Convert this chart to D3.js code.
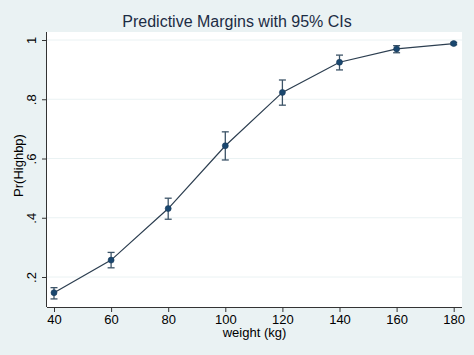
<!DOCTYPE html>
<html>
<head>
<meta charset="utf-8">
<script src="https://cdn.jsdelivr.net/npm/d3@7"></script>
<style>
html,body{margin:0;padding:0;background:#eaf2f3;}
svg{display:block;font-family:"Liberation Sans",Arial,sans-serif;}
</style>
</head>
<body>
<svg id="chart" width="474" height="355"></svg>
<script>
const weights = [40, 60, 80, 100, 120, 140, 160, 180];
const margins = [0.147, 0.257, 0.431, 0.643, 0.823, 0.925, 0.970, 0.988];
const ciLow   = [0.126, 0.231, 0.395, 0.595, 0.780, 0.899, 0.957, 0.984];
const ciHigh  = [0.164, 0.283, 0.466, 0.690, 0.865, 0.949, 0.981, 0.992];
const xTicks = [40, 60, 80, 100, 120, 140, 160, 180];
const yTicks = [0.2, 0.4, 0.6, 0.8, 1];
const yTickLabels = [".2", ".4", ".6", ".8", "1"];
const titleText = "Predictive Margins with 95% CIs";
const xLabel = "weight (kg)";
const yLabel = "Pr(Highbp)";

const svg = d3.select("#chart");
const W = 474, H = 355;
svg.append("rect").attr("width", W).attr("height", H).attr("fill", "#eaf2f3");

const plot = {left: 47, right: 462, top: 32, bottom: 307};
const x = d3.scaleLinear().domain([40, 180]).range([54, 453.7]);
const y = d3.scaleLinear().domain([0.2, 1]).range([277, 40]);

svg.append("rect")
  .attr("x", plot.left).attr("y", plot.top)
  .attr("width", plot.right - plot.left).attr("height", plot.bottom - plot.top)
  .attr("fill", "#ffffff");

// gridlines
svg.append("g").selectAll("line").data(yTicks).join("line")
  .attr("x1", plot.left).attr("x2", plot.right)
  .attr("y1", d => y(d)).attr("y2", d => y(d))
  .attr("stroke", "#eaf2f3").attr("stroke-width", 1);

// axes
const xAxis = d3.axisBottom(x).tickValues(xTicks).tickSize(5).tickPadding(3).tickFormat(d3.format("d"));
const gx = svg.append("g").attr("transform", `translate(0,${plot.bottom})`).call(xAxis);
gx.select(".domain").attr("d", `M${plot.left},0.5H${plot.right}`).attr("stroke", "#333");
gx.selectAll(".tick line").attr("stroke", "#333");
gx.selectAll(".tick text").attr("font-size", 13).attr("fill", "#000").attr("font-family", "Liberation Sans, Arial, sans-serif");

const yAxis = d3.axisLeft(y).tickValues(yTicks).tickSize(5).tickPadding(4)
  .tickFormat((d, i) => yTickLabels[i]);
const gy = svg.append("g").attr("transform", `translate(${plot.left},0)`).call(yAxis);
gy.select(".domain").attr("d", `M-0.5,${plot.top}V${plot.bottom}`).attr("stroke", "#333");
gy.selectAll(".tick line").attr("stroke", "#333");
gy.selectAll(".tick text")
  .attr("font-size", 13).attr("fill", "#000").attr("font-family", "Liberation Sans, Arial, sans-serif")
  .attr("text-anchor", "middle").attr("dy", null)
  .attr("transform", function(d){ return `translate(-13,${y(d) - y(d)}) rotate(-90)`; })
  .attr("x", 0).attr("y", 0);

// Re-position y tick labels explicitly (rotated)
gy.selectAll(".tick text").each(function(d){
  d3.select(this).attr("transform", "translate(-11,0) rotate(-90)");
});

// line
const data = weights.map((w, i) => ({w, m: margins[i], lo: ciLow[i], hi: ciHigh[i]}));
svg.append("path").datum(data)
  .attr("d", d3.line().x(d => x(d.w)).y(d => y(d.m)))
  .attr("fill", "none").attr("stroke", "#2c3e50").attr("stroke-width", 1.2);

// error bars
const eb = svg.append("g").attr("stroke", "#3d5468").attr("stroke-width", 1.3).attr("fill", "none");
eb.selectAll("line.v").data(data).join("line").attr("class", "v")
  .attr("x1", d => x(d.w)).attr("x2", d => x(d.w))
  .attr("y1", d => y(d.lo)).attr("y2", d => y(d.hi));
eb.selectAll("line.t").data(data).join("line").attr("class", "t")
  .attr("x1", d => x(d.w) - 3.5).attr("x2", d => x(d.w) + 3.5)
  .attr("y1", d => y(d.hi)).attr("y2", d => y(d.hi));
eb.selectAll("line.b").data(data).join("line").attr("class", "b")
  .attr("x1", d => x(d.w) - 3.5).attr("x2", d => x(d.w) + 3.5)
  .attr("y1", d => y(d.lo)).attr("y2", d => y(d.lo));

// markers
svg.append("g").selectAll("circle").data(data).join("circle")
  .attr("cx", d => x(d.w)).attr("cy", d => y(d.m)).attr("r", 3)
  .attr("fill", "#1a476f").attr("stroke", "#1a3a5a").attr("stroke-width", 0.6);

// title
svg.append("text").attr("x", 237).attr("y", 27).attr("text-anchor", "middle")
  .attr("font-size", 16).attr("fill", "#1c2c44").text(titleText);

// axis titles
svg.append("text").attr("x", (plot.left + plot.right) / 2).attr("y", 337).attr("text-anchor", "middle")
  .attr("font-size", 13).attr("fill", "#000").text(xLabel);
svg.append("text").attr("transform", `translate(23,${(plot.top + plot.bottom) / 2 - 4}) rotate(-90)`)
  .attr("text-anchor", "middle").attr("font-size", 13).attr("fill", "#000").text(yLabel);
</script>
</body>
</html>
